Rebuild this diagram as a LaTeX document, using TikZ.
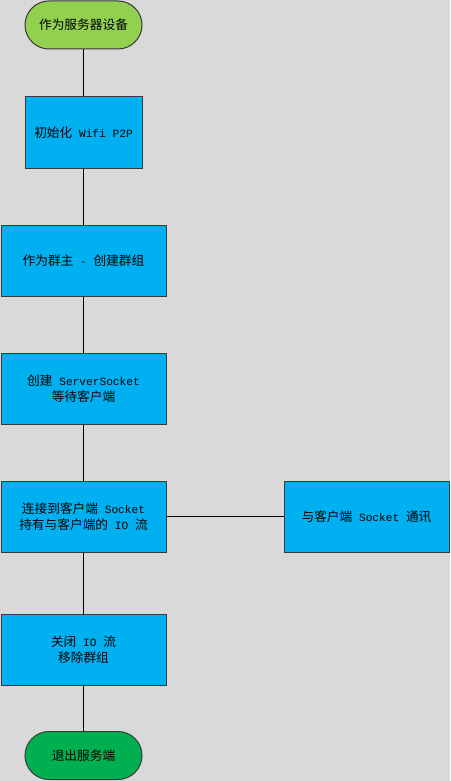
\documentclass[tikz,border=0pt]{standalone}
\usepackage{fontspec}
\newfontfamily\cjk{Noto Sans CJK SC}
\newfontfamily\lat{Liberation Mono}[Scale=0.88]
\definecolor{bg}{HTML}{D9D9D9}
\definecolor{boxblue}{HTML}{00B0F0}
\definecolor{lightgreen}{HTML}{92D050}
\definecolor{darkgreen}{HTML}{00B050}
\definecolor{edge}{HTML}{3A3A3A}
\begin{document}
\begin{tikzpicture}[x=1pt,y=-1pt,
  base/.style={draw=edge,line width=1pt,align=center,inner sep=0pt,font=\cjk\fontsize{12.7}{16}\selectfont},
  stepbox/.style={base,fill=boxblue,minimum height=71pt},
  terminal/.style={base,rounded corners=24pt,minimum width=117pt,minimum height=48pt},
  link/.style={draw=black,line width=1pt}]
\fill[bg] (0,0) rectangle (450,781);
\useasboundingbox (0,0) rectangle (450,781);
\node[terminal,fill=lightgreen] (start) at (83.5,25) {作为服务器设备};
\node[stepbox,minimum width=117pt] (init) at (83.5,132.5) {初始化{\lat\ Wifi P2P}};
\node[stepbox,minimum width=165pt] (group) at (83.5,260.5) {作为群主{\lat\ -\ }创建群组};
\node[stepbox,minimum width=165pt] (server) at (83.5,388.5) {创建{\lat\ ServerSocket}\\等待客户端};
\node[stepbox,minimum width=165pt] (connect) at (83.5,516.5) {连接到客户端{\lat\ Socket}\\持有与客户端的{\lat\ IO\ }流};
\node[stepbox,minimum width=165pt] (comm) at (366.5,516.5) {与客户端{\lat\ Socket\ }通讯};
\node[stepbox,minimum width=165pt] (close) at (83.5,649.5) {关闭{\lat\ IO\ }流\\移除群组};
\node[terminal,fill=darkgreen] (stop) at (83.5,755.5) {退出服务端};
\draw[link] (start) -- (init);
\draw[link] (init) -- (group);
\draw[link] (group) -- (server);
\draw[link] (server) -- (connect);
\draw[link] (connect) -- (comm);
\draw[link] (connect) -- (close);
\draw[link] (close) -- (stop);
\end{tikzpicture}
\end{document}
